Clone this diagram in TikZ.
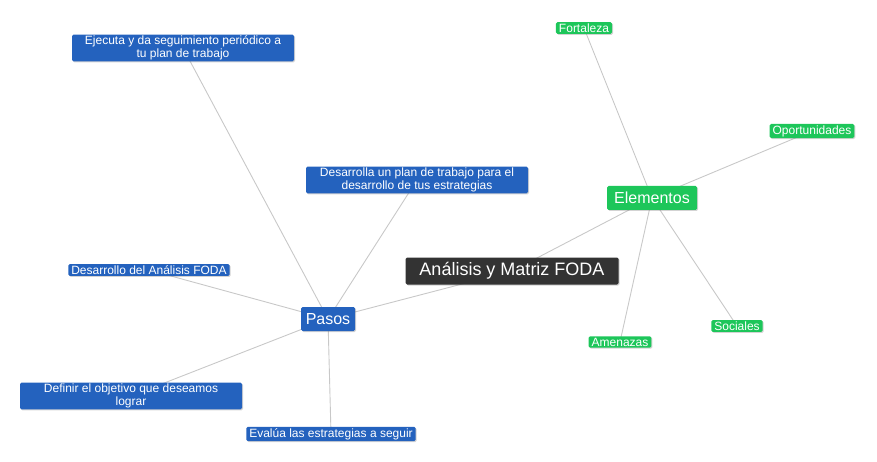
\documentclass[tikz,border=0pt]{standalone}
\usepackage{fontspec}
\setmainfont{Liberation Sans}
\usetikzlibrary{shadows,backgrounds}
\definecolor{bl}{HTML}{2462BE}
\definecolor{gr}{HTML}{1DC65A}
\definecolor{dk}{HTML}{333333}
\definecolor{ln}{HTML}{C8C8C8}
\begin{document}
\begin{tikzpicture}[x=1pt,y=-1pt,
 base/.style={rounded corners=1.5pt,text=white,inner xsep=3pt,inner ysep=1.5pt,align=center,drop shadow={shadow xshift=1pt,shadow yshift=-1pt,opacity=0.35}},
 bbox/.style={base,fill=bl,font=\fontsize{12}{12.5}\selectfont},
 gbox/.style={base,fill=gr,font=\fontsize{12}{12.5}\selectfont},
 conn/.style={draw=ln,line width=0.9pt}]
\useasboundingbox (0,0) rectangle (877,462);
\node[base,fill=dk,font=\fontsize{18}{19}\selectfont,minimum width=213,minimum height=27] (c) at (512,271) {Análisis y Matriz FODA};
\node[base,fill=bl,font=\fontsize{16}{17}\selectfont,minimum width=54,minimum height=24] (p) at (328,319) {Pasos};
\node[base,fill=gr,font=\fontsize{16}{17}\selectfont,minimum width=90,minimum height=24] (e) at (652,198) {Elementos};
\node[bbox,minimum width=222] (p1) at (183,48) {Ejecuta y da seguimiento periódico a\\tu plan de trabajo};
\node[bbox,minimum width=222] (p2) at (417,180) {Desarrolla un plan de trabajo para el\\desarrollo de tus estrategias};
\node[bbox] (p3) at (149,270) {Desarrollo del Análisis FODA};
\node[bbox,minimum width=222] (p4) at (131,396) {Definir el objetivo que deseamos\\lograr};
\node[bbox] (p5) at (331,434) {Evalúa las estrategias a seguir};
\node[gbox] (e1) at (584,28) {Fortaleza};
\node[gbox] (e2) at (812,131) {Oportunidades};
\node[gbox] (e3) at (620,342) {Amenazas};
\node[gbox] (e4) at (737,326) {Sociales};
\begin{scope}[on background layer]
\path[conn] (c.center) -- (p.center) (c.center) -- (e.center)
 (p.center) -- (p1.center) (p.center) -- (p2.center) (p.center) -- (p3.center) (p.center) -- (p4.center) (p.center) -- (p5.center)
 (e.center) -- (e1.center) (e.center) -- (e2.center) (e.center) -- (e3.center) (e.center) -- (e4.center);
\end{scope}
\end{tikzpicture}
\end{document}
